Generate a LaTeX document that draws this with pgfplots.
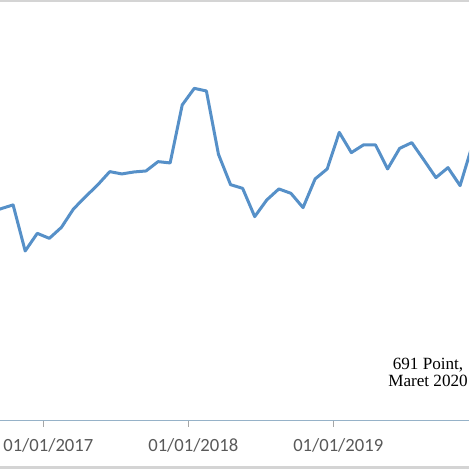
\documentclass[border=0pt]{standalone}
\usepackage{fontspec}
\setmainfont{Liberation Serif}
\newfontfamily\calibri{Carlito}
\usepackage{pgfplots}
\pgfplotsset{compat=1.18}
\definecolor{lineblue}{RGB}{86,144,200}
\definecolor{axisblue}{RGB}{150,178,200}
\definecolor{ticklab}{RGB}{89,89,89}
\definecolor{band}{RGB}{212,212,212}
\begin{document}
\begin{tikzpicture}[x=1bp,y=1bp]
\useasboundingbox (0,0) rectangle (469,469);
\fill[band] (0,0) rectangle (469,3);
\fill[band] (0,467) rectangle (469,469);
\begin{axis}[
  at={(0,73.5)}, anchor=south west,
  scale only axis, width=469bp, height=419bp,
  xmin=-3.585, xmax=35.24, ymin=600, ymax=1236.9,
  axis x line=bottom, axis y line=none,
  x axis line style={-, draw=axisblue, line width=1bp},
  xtick={0,12,24,36},
  xticklabels={01/01/2017,01/01/2018,01/01/2019,01/01/2020},
  tick align=outside, major tick length=6bp,
  tick style={draw=gray!70, line width=0.8bp},
  xticklabel style={font=\calibri\fontsize{18.7}{20}\selectfont, text=ticklab, anchor=base, yshift=-25bp, xshift=5bp},
  clip=true,
]
\addplot[lineblue, line width=3bp, line join=round] coordinates {
(-4.5,915) (-3.5,922.2) (-2.5,927.9) (-1.5,857.9) (-0.5,884.7)
(0.5,877.1) (1.5,893.8) (2.5,921.8) (3.5,940.5) (4.5,958.3) (5.5,978.5)
(6.5,975.0) (7.5,978.0) (8.5,979.5) (9.5,993.7) (10.5,991.7) (11.5,1079.9)
(12.5,1105.1) (13.5,1101.1) (14.5,1004.8) (15.5,958.7) (16.5,953.1) (17.5,910.1)
(18.5,935.5) (19.5,952.2) (20.5,945.5) (21.5,923.8) (22.5,967.4) (23.5,982.6)
(24.5,1038.2) (25.5,1007.4) (26.5,1019.1) (27.5,1019.1) (28.5,982.6) (29.5,1013.9)
(30.5,1022.6) (31.5,996.3) (32.5,969.4) (33.5,984.6) (34.5,957.2) (35.5,1018) (36.5,1000)
};
\end{axis}
\node[align=center, font=\fontsize{17.2}{16.7}\selectfont, inner sep=0pt, anchor=base] at (428,82.5) {691 Point,\\Maret 2020};
\end{tikzpicture}
\end{document}
